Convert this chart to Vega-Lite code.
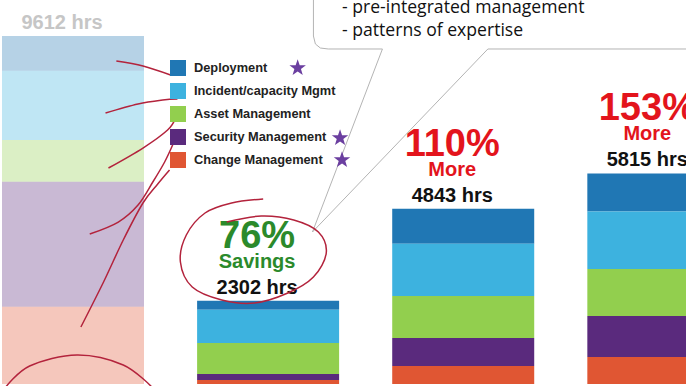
{
  "$schema": "https://vega.github.io/schema/vega-lite/v6.json",
  "width": 686,
  "height": 386,
  "padding": 0,
  "autosize": {"type": "fit", "contains": "padding"},
  "background": "white",
  "config": {"view": {"stroke": null}},
  "datasets": {
    "bars": [
      {"pos": 0, "cat": "Deployment", "hrs": 958},
      {"pos": 0, "cat": "Incident/capacity Mgmt", "hrs": 1914},
      {"pos": 0, "cat": "Asset Management", "hrs": 1152},
      {"pos": 0, "cat": "Security Management", "hrs": 3453},
      {"pos": 0, "cat": "Change Management", "hrs": 2135},
      {"pos": 1, "cat": "Deployment", "hrs": 249},
      {"pos": 1, "cat": "Incident/capacity Mgmt", "hrs": 921},
      {"pos": 1, "cat": "Asset Management", "hrs": 856},
      {"pos": 1, "cat": "Security Management", "hrs": 166},
      {"pos": 1, "cat": "Change Management", "hrs": 110},
      {"pos": 2, "cat": "Deployment", "hrs": 967},
      {"pos": 2, "cat": "Incident/capacity Mgmt", "hrs": 1446},
      {"pos": 2, "cat": "Asset Management", "hrs": 1160},
      {"pos": 2, "cat": "Security Management", "hrs": 773},
      {"pos": 2, "cat": "Change Management", "hrs": 497},
      {"pos": 3, "cat": "Deployment", "hrs": 1050},
      {"pos": 3, "cat": "Incident/capacity Mgmt", "hrs": 1589},
      {"pos": 3, "cat": "Asset Management", "hrs": 1298},
      {"pos": 3, "cat": "Security Management", "hrs": 1132},
      {"pos": 3, "cat": "Change Management", "hrs": 746}
    ],
    "totals": [
      {"pos": 0, "total": 9612, "label": "9612 hrs", "pct": "", "word": ""},
      {"pos": 1, "total": 2302, "label": "2302 hrs", "pct": "76%", "word": "Savings"},
      {"pos": 2, "total": 4843, "label": "4843 hrs", "pct": "110%", "word": "More"},
      {"pos": 3, "total": 5815, "label": "5815 hrs", "pct": "153%", "word": "More"}
    ],
    "stars": [
      {"x": 1.1515, "y": 8728},
      {"x": 1.3687, "y": 6795},
      {"x": 1.3788, "y": 6187}
    ],
    "ink": [
      {"id": "a", "i": 1, "x": 0.2222, "y": 8921},
      {"id": "a", "i": 2, "x": 0.3586, "y": 8783},
      {"id": "a", "i": 3, "x": 0.5, "y": 8535},
      {"id": "b", "i": 1, "x": 0.1667, "y": 7485},
      {"id": "b", "i": 2, "x": 0.3333, "y": 7734},
      {"id": "b", "i": 3, "x": 0.4596, "y": 7844},
      {"id": "b", "i": 4, "x": 0.5354, "y": 7872},
      {"id": "c", "i": 1, "x": 0.1818, "y": 5966},
      {"id": "c", "i": 2, "x": 0.3586, "y": 6518},
      {"id": "c", "i": 3, "x": 0.4848, "y": 7015},
      {"id": "c", "i": 4, "x": 0.5253, "y": 7347},
      {"id": "d", "i": 1, "x": 0.0859, "y": 4143},
      {"id": "d", "i": 2, "x": 0.2323, "y": 4474},
      {"id": "d", "i": 3, "x": 0.3333, "y": 4944},
      {"id": "d", "i": 4, "x": 0.4091, "y": 5579},
      {"id": "d", "i": 5, "x": 0.4697, "y": 6132},
      {"id": "d", "i": 6, "x": 0.5152, "y": 6656},
      {"id": "e", "i": 1, "x": 0.0404, "y": 1574},
      {"id": "e", "i": 2, "x": 0.1566, "y": 2817},
      {"id": "e", "i": 3, "x": 0.2576, "y": 3977},
      {"id": "e", "i": 4, "x": 0.3586, "y": 4999},
      {"id": "e", "i": 5, "x": 0.4343, "y": 5524},
      {"id": "e", "i": 6, "x": 0.4949, "y": 5911},
      {"id": "f", "i": 1, "x": -0.3485, "y": -110},
      {"id": "f", "i": 2, "x": -0.2222, "y": 497},
      {"id": "f", "i": 3, "x": 0.0202, "y": 801},
      {"id": "f", "i": 4, "x": 0.2576, "y": 525},
      {"id": "f", "i": 5, "x": 0.4091, "y": -110},
      {"id": "g", "i": 1, "x": 0.9747, "y": 5110},
      {"id": "g", "i": 2, "x": 0.8131, "y": 4999},
      {"id": "g", "i": 3, "x": 0.6768, "y": 4723},
      {"id": "g", "i": 4, "x": 0.5808, "y": 4115},
      {"id": "g", "i": 5, "x": 0.5505, "y": 3370},
      {"id": "g", "i": 6, "x": 0.6111, "y": 2679},
      {"id": "g", "i": 7, "x": 0.7626, "y": 2320},
      {"id": "g", "i": 8, "x": 0.9293, "y": 2237},
      {"id": "g", "i": 9, "x": 1.101, "y": 2513},
      {"id": "g", "i": 10, "x": 1.2323, "y": 2955},
      {"id": "g", "i": 11, "x": 1.298, "y": 3618},
      {"id": "g", "i": 12, "x": 1.2576, "y": 4198},
      {"id": "g", "i": 13, "x": 1.1313, "y": 4530},
      {"id": "g", "i": 14, "x": 0.9646, "y": 4640},
      {"id": "g", "i": 15, "x": 0.7879, "y": 4474}
    ],
    "box": [
      {"i": 1, "x": 1.2323, "y": 10744},
      {"i": 2, "x": 1.2323, "y": 9612},
      {"i": 3, "x": 1.2424, "y": 9391},
      {"i": 4, "x": 1.2677, "y": 9280},
      {"i": 5, "x": 1.3081, "y": 9253},
      {"i": 6, "x": 1.5859, "y": 9253},
      {"i": 7, "x": 1.2273, "y": 4198},
      {"i": 8, "x": 2.1263, "y": 9253},
      {"i": 9, "x": 3.1869, "y": 9253}
    ],
    "notes": [
      {"x": 1.3788, "y": 10247, "text": "- pre-integrated management"},
      {"x": 1.3788, "y": 9612, "text": "- patterns of expertise"}
    ]
  },
  "layer": [
    {
      "data": {"name": "bars"},
      "transform": [
        {"calculate": "indexof(['Change Management','Security Management','Asset Management','Incident/capacity Mgmt','Deployment'], datum.cat)", "as": "stackRank"}
      ],
      "mark": {"type": "bar", "width": 142, "clip": true},
      "encoding": {
        "x": {"field": "pos", "type": "quantitative", "scale": {"domain": [-0.3485, 3.1162], "nice": false, "zero": false}, "axis": null},
        "y": {"field": "hrs", "type": "quantitative", "stack": "zero", "scale": {"domain": [-55, 10606], "nice": false, "zero": false}, "axis": null},
        "order": {"field": "stackRank", "type": "quantitative", "sort": "ascending"},
        "color": {
          "field": "cat",
          "type": "nominal",
          "sort": ["Deployment", "Incident/capacity Mgmt", "Asset Management", "Security Management", "Change Management"],
          "scale": {
            "domain": ["Deployment", "Incident/capacity Mgmt", "Asset Management", "Security Management", "Change Management"],
            "range": ["#2077b4", "#3db2df", "#92cf4e", "#5a2a7d", "#e05633"]
          },
          "legend": {
            "orient": "none", "legendX": 170, "legendY": 60, "title": null, "padding": 0,
            "symbolType": "square", "symbolSize": 256, "symbolStrokeWidth": 0, "symbolOpacity": 1,
            "labelFont": "Liberation Sans", "labelFontSize": 12.8, "labelFontWeight": "bold", "labelColor": "#222222",
            "rowPadding": 7, "labelOffset": 8, "labelLimit": 300
          }
        },
        "opacity": {"condition": {"test": "datum.pos == 0", "value": 0.33}, "value": 1}
      }
    },
    {
      "data": {"name": "totals"},
      "mark": {"type": "text", "font": "Liberation Sans", "fontWeight": "bold", "fontSize": 20, "baseline": "alphabetic", "dx": -11, "dy": -7, "clip": true},
      "encoding": {
        "x": {"field": "pos", "type": "quantitative"},
        "y": {"field": "total", "type": "quantitative"},
        "text": {"field": "label"},
        "color": {"condition": {"test": "datum.pos == 0", "value": "#c6c6c6"}, "value": "#111111"}
      }
    },
    {
      "data": {"name": "totals"},
      "mark": {"type": "text", "font": "Liberation Sans", "fontWeight": "bold", "fontSize": 20, "baseline": "alphabetic", "dx": -11, "dy": -33, "clip": true},
      "encoding": {
        "x": {"field": "pos", "type": "quantitative"},
        "y": {"field": "total", "type": "quantitative"},
        "text": {"field": "word"},
        "color": {"condition": {"test": "datum.pos == 1", "value": "#2b8a2b"}, "value": "#e3141c"}
      }
    },
    {
      "data": {"name": "totals"},
      "mark": {"type": "text", "font": "Liberation Sans", "fontWeight": "bold", "fontSize": 38, "baseline": "alphabetic", "dx": -11, "dy": -53, "clip": true},
      "encoding": {
        "x": {"field": "pos", "type": "quantitative"},
        "y": {"field": "total", "type": "quantitative"},
        "text": {"field": "pct"},
        "color": {"condition": {"test": "datum.pos == 1", "value": "#2b8a2b"}, "value": "#e3141c"}
      }
    },
    {
      "data": {"name": "box"},
      "mark": {"type": "line", "color": "#b4b4b4", "strokeWidth": 1, "clip": true},
      "encoding": {
        "x": {"field": "x", "type": "quantitative"},
        "y": {"field": "y", "type": "quantitative"},
        "order": {"field": "i"}
      }
    },
    {
      "data": {"name": "notes"},
      "mark": {"type": "text", "font": "Open Sans", "fontSize": 17.6, "align": "left", "baseline": "alphabetic", "color": "#111111", "clip": true},
      "encoding": {
        "x": {"field": "x", "type": "quantitative"},
        "y": {"field": "y", "type": "quantitative"},
        "text": {"field": "text"}
      }
    },
    {
      "data": {"name": "stars"},
      "mark": {"type": "point", "filled": true, "color": "#6b3fa0", "opacity": 1, "size": 300,
        "shape": "M0,-1L0.235,-0.324L0.951,-0.309L0.380,0.124L0.588,0.809L0,0.4L-0.588,0.809L-0.380,0.124L-0.951,-0.309L-0.235,-0.324Z"},
      "encoding": {
        "x": {"field": "x", "type": "quantitative"},
        "y": {"field": "y", "type": "quantitative"}
      }
    },
    {
      "data": {"name": "ink"},
      "mark": {"type": "line", "color": "#b3233c", "strokeWidth": 1.5, "interpolate": "cardinal", "clip": true},
      "encoding": {
        "x": {"field": "x", "type": "quantitative"},
        "y": {"field": "y", "type": "quantitative"},
        "detail": {"field": "id"},
        "order": {"field": "i"}
      }
    }
  ]
}
